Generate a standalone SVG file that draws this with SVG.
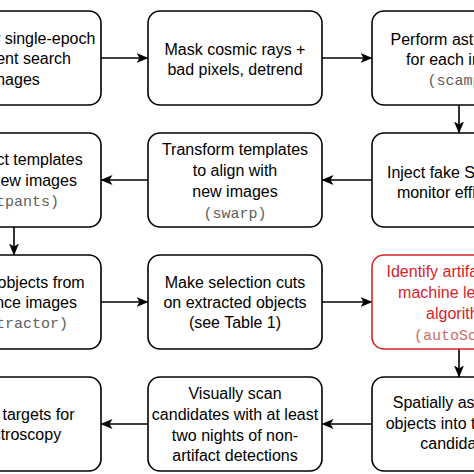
<svg xmlns="http://www.w3.org/2000/svg" width="474" height="474" viewBox="0 0 474 474">
  <defs>
    <marker id="arr" viewBox="0 0 12 10" refX="11.5" refY="5" markerWidth="12" markerHeight="10" markerUnits="userSpaceOnUse" orient="auto">
      <path d="M0,0 L12,5 L0,10 L3,5 Z" fill="#000"/>
    </marker>
    <style>
      .box { fill: #fff; stroke: #000; stroke-width: 1.6; }
      .red { fill: #fff; stroke: #d8232a; stroke-width: 1.6; }
      .t { font-family: "Liberation Sans", Arial, sans-serif; font-size: 16px; fill: #000; text-anchor: middle; }
      .tr { font-family: "Liberation Sans", Arial, sans-serif; font-size: 16px; fill: #d8232a; text-anchor: middle; }
      .m { font-family: "Liberation Mono", "Courier New", monospace; font-size: 15px; fill: #606060; text-anchor: middle; }
      .mr { font-family: "Liberation Mono", "Courier New", monospace; font-size: 15px; fill: #d06a6a; text-anchor: middle; }
      .c { fill: none; stroke: #000; stroke-width: 1.6; marker-end: url(#arr); }
    </style>
  </defs>
  <rect width="474" height="474" fill="#fff"/>

  <g id="connectors">
    <line class="c" x1="101" y1="58" x2="148" y2="58"/>
    <line class="c" x1="322" y1="58" x2="372" y2="58"/>
    <line class="c" x1="459" y1="105" x2="459" y2="133"/>
    <line class="c" x1="372" y1="180" x2="322" y2="180"/>
    <line class="c" x1="148" y1="180" x2="101" y2="180"/>
    <line class="c" x1="14" y1="227" x2="14" y2="255"/>
    <line class="c" x1="101" y1="302" x2="148" y2="302"/>
    <line class="c" x1="322" y1="302" x2="372" y2="302"/>
    <line class="c" x1="459" y1="349" x2="459" y2="377"/>
    <line class="c" x1="372" y1="424" x2="322" y2="424"/>
    <line class="c" x1="148" y1="424" x2="101" y2="424"/>
  </g>

  <g id="n1">
    <rect class="box" x="-73" y="11" width="174" height="94" rx="12"/>
    <text class="t" x="14" y="44">Take new single-epoch</text>
    <text class="t" x="14" y="64">transient search</text>
    <text class="t" x="14" y="85">images</text>
  </g>
  <g id="n2">
    <rect class="box" x="148" y="11" width="174" height="94" rx="12"/>
    <text class="t" x="235" y="55">Mask cosmic rays +</text>
    <text class="t" x="235" y="75">bad pixels, detrend</text>
  </g>
  <g id="n3">
    <rect class="box" x="372" y="11" width="174" height="94" rx="12"/>
    <text class="t" x="459" y="45">Perform astrometry</text>
    <text class="t" x="459" y="65">for each image</text>
    <text class="m" x="459" y="85">(scamp)</text>
  </g>
  <g id="n4">
    <rect class="box" x="372" y="133" width="174" height="94" rx="12"/>
    <text class="t" x="459" y="178">Inject fake SNe Ia to</text>
    <text class="t" x="459" y="198">monitor efficiency</text>
  </g>
  <g id="n5">
    <rect class="box" x="148" y="133" width="174" height="94" rx="12"/>
    <text class="t" x="235" y="155">Transform templates</text>
    <text class="t" x="235" y="176">to align with</text>
    <text class="t" x="235" y="197">new images</text>
    <text class="m" x="235" y="218">(swarp)</text>
  </g>
  <g id="n6">
    <rect class="box" x="-73" y="133" width="174" height="94" rx="12"/>
    <text class="t" x="16" y="165">Subtract templates</text>
    <text class="t" x="16" y="186">from new images</text>
    <text class="m" x="14" y="206">(hotpants)</text>
  </g>
  <g id="n7">
    <rect class="box" x="-73" y="255" width="174" height="94" rx="12"/>
    <text class="t" x="14" y="288">Extract objects from</text>
    <text class="t" x="14" y="308">difference images</text>
    <text class="m" x="14" y="328">(SExtractor)</text>
  </g>
  <g id="n8">
    <rect class="box" x="148" y="255" width="174" height="94" rx="12"/>
    <text class="t" x="235" y="288">Make selection cuts</text>
    <text class="t" x="235" y="308">on extracted objects</text>
    <text class="t" x="235" y="328">(see Table 1)</text>
  </g>
  <g id="n9">
    <rect class="red" x="372" y="255" width="174" height="94" rx="12"/>
    <text class="tr" x="459" y="277">Identify artifacts with</text>
    <text class="tr" x="459" y="298">machine learning</text>
    <text class="tr" x="459" y="319">algorithm</text>
    <text class="mr" x="459" y="340">(autoScan)</text>
  </g>
  <g id="n10">
    <rect class="box" x="372" y="377" width="174" height="94" rx="12"/>
    <text class="t" x="459" y="408">Spatially associate</text>
    <text class="t" x="459" y="429">objects into transient</text>
    <text class="t" x="459" y="449">candidates</text>
  </g>
  <g id="n11">
    <rect class="box" x="148" y="377" width="174" height="94" rx="12"/>
    <text class="t" x="235" y="399">Visually scan</text>
    <text class="t" x="235" y="420">candidates with at least</text>
    <text class="t" x="235" y="441">two nights of non-</text>
    <text class="t" x="235" y="461">artifact detections</text>
  </g>
  <g id="n12">
    <rect class="box" x="-73" y="377" width="174" height="94" rx="12"/>
    <text class="t" x="14" y="420">Select targets for</text>
    <text class="t" x="14" y="440">spectroscopy</text>
  </g>
</svg>
